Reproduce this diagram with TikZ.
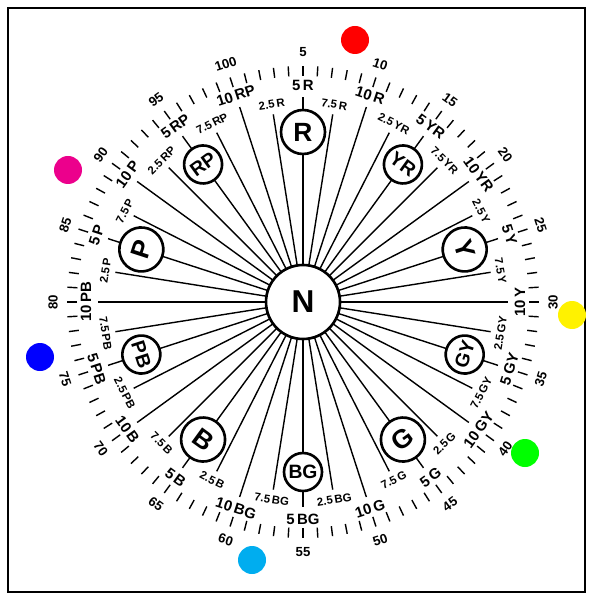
\documentclass[tikz,border=0pt]{standalone}
\usepackage{fontspec}
\setmainfont{Liberation Sans}
\usetikzlibrary{positioning}
\tikzset{
  huebig/.style={circle, draw, line width=1.5pt, fill=white, minimum size=44*0.02cm, inner sep=0pt, font=\fontsize{15}{15}\selectfont\bfseries},
  huesmall/.style={circle, draw, line width=1.5pt, fill=white, minimum size=38*0.02cm, inner sep=0pt, font=\fontsize{11}{11}\selectfont\bfseries},
  huelab/.style={font=\fontsize{#1}{#1}\selectfont\bfseries, inner sep=0.5pt},
  dot/.style={circle, fill=#1, minimum size=28*0.02cm, inner sep=0pt}
}
\begin{document}
\begin{tikzpicture}[x=0.02cm, y=-0.02cm]
  \useasboundingbox (0,0) rectangle (600,607);
  \draw[line width=1.2pt] (8,8) rectangle (585,592);
  \begin{scope}[shift={(303,302)}]
    % ticks and numbers
    \foreach \h in {1,...,100}{
      \pgfmathsetmacro{\a}{90-(\h-5)*3.6}
      \draw[line width=0.8pt] (-\a:226) -- (-\a:236);
    }
    \foreach \h in {5,10,...,100}{
      \pgfmathsetmacro{\a}{mod(90-(\h-5)*3.6+720,360)}
      \pgfmathsetmacro{\r}{ifthenelse(\a>0 && \a<180,\a-90,\a+90)}
      \node[huelab=7.5, rotate=\r] (num\h) at (-\a:250) {\h};
    }
    % spokes and hue labels
    \foreach \hue [count=\i from 0] in {R,YR,Y,GY,G,BG,B,PB,P,RP}{
      \foreach \s/\e/\l/\f [count=\j] in {2.5/190/200/6.5, 5/205/217/8.5, 7.5/190/200/6.5, 10/205/217/8.5}{
        \pgfmathsetmacro{\a}{mod(90-(10*\i+\s-5)*3.6+720,360)}
        \pgfmathsetmacro{\r}{ifthenelse(\a>0 && \a<180,\a-90,\a+90)}
        \draw[line width=0.8pt] (0,0) -- (-\a:\e);
        \node[huelab=\f, rotate=\r] (lab\hue\j) at (-\a:\l) {\s\,\hue};
      }
    }
    % hue circles
    \foreach \hue/\st [count=\i from 0] in {R/huebig,YR/huesmall,Y/huebig,GY/huesmall,G/huebig,BG/huesmall,B/huebig,PB/huesmall,P/huebig,RP/huesmall}{
      \pgfmathsetmacro{\a}{mod(90-(10*\i)*3.6+720,360)}
      \pgfmathsetmacro{\r}{ifthenelse(\a>0 && \a<180,\a-90,\a+90)}
      \node[\st, rotate=\r] (c\hue) at (-\a:170) {\hue};
    }
    \node[circle, draw, line width=1.5pt, fill=white, minimum size=74*0.02cm, font=\fontsize{18}{18}\selectfont\bfseries] (N) at (0,0) {N};
  \end{scope}
  % colour dots
  \node[dot=red] (dR) at (355,40) {};
  \node[dot=magenta] (dP) at (68,170) {};
  \node[dot=blue] (dB) at (40,357) {};
  \node[dot=cyan] (dBG) at (252,560) {};
  \node[dot=green] (dG) at (525,453) {};
  \node[dot=yellow] (dY) at (572,315) {};
\end{tikzpicture}
\end{document}
